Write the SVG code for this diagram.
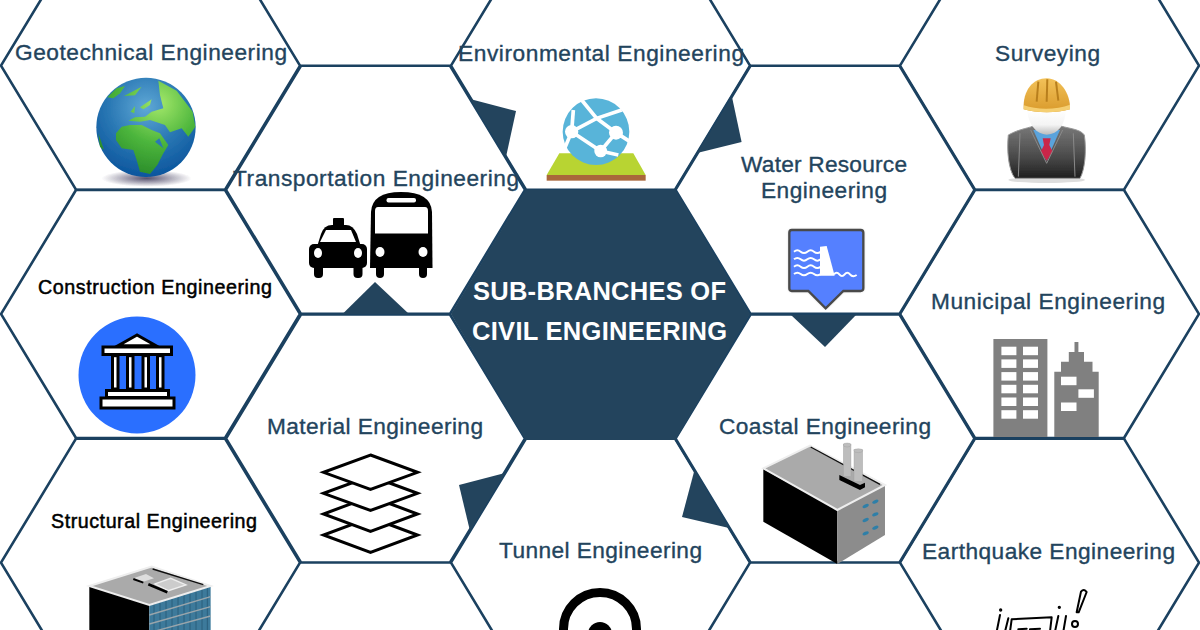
<svg xmlns="http://www.w3.org/2000/svg" width="1200" height="630" viewBox="0 0 1200 630">
<style>
.hex{fill:#fff;stroke:#1b4160;stroke-width:2.6;stroke-linejoin:round}
text{font-family:"Liberation Sans",Arial,sans-serif;text-anchor:middle}
.t{font-size:22.7px;fill:#23445d;stroke:#23445d;stroke-width:.35}
.k{font-size:19.7px;fill:#000;stroke:#000;stroke-width:.5}
.c{font-size:25.500px;font-weight:bold;fill:#fff}
.wedge{fill:#23445d}
.bld{fill:#808080}
.win{fill:#fff}
</style>
<defs>
<polygon id="hex" class="hex" points="-149.5,0 -74.5,-124 74.5,-124 149.5,0 74.5,124 -74.5,124"/>
<radialGradient id="sea" cx=".5" cy=".3" r=".75"><stop offset="0" stop-color="#5fa8d6"/><stop offset=".5" stop-color="#2a78b4"/><stop offset="1" stop-color="#07509a"/></radialGradient>
<radialGradient id="land" gradientUnits="userSpaceOnUse" cx="235" cy="100" r="220"><stop offset="0" stop-color="#a4e86a"/><stop offset=".55" stop-color="#4cb53c"/><stop offset="1" stop-color="#2a8c2a"/></radialGradient>
<radialGradient id="shade" cx=".5" cy=".5" r=".5"><stop offset="0" stop-color="#55506e"/><stop offset="1" stop-color="#55506e" stop-opacity="0"/></radialGradient>
<linearGradient id="gold" x1="0" y1="0" x2="0" y2="1"><stop offset="0" stop-color="#f2c158"/><stop offset="1" stop-color="#d99a2b"/></linearGradient>
<linearGradient id="suit" x1="0" y1="0" x2="0" y2="1"><stop offset="0" stop-color="#7a7a7a"/><stop offset=".6" stop-color="#4a4a4a"/><stop offset="1" stop-color="#1e1e1e"/></linearGradient>
<linearGradient id="head" x1="0" y1="0" x2="0" y2="1"><stop offset="0" stop-color="#fff"/><stop offset=".6" stop-color="#f4f4f4"/><stop offset="1" stop-color="#bbb"/></linearGradient>
<filter id="soft" x="-5%" y="-5%" width="110%" height="110%"><feGaussianBlur stdDeviation=".6"/></filter>
<filter id="glow" x="-20%" y="-20%" width="140%" height="140%"><feGaussianBlur stdDeviation="5"/></filter>
</defs>

<g id="node-environmental">
<use href="#hex" x="600.5" y="65.7"/>
<g transform="translate(530,90) scale(.3333)" filter="url(#soft)">
<polygon points="88,190 310,190 347,255 50,255" fill="#b8d432"/>
<rect x="50" y="255" width="297" height="17" fill="#a9673b"/>
<circle cx="198" cy="125" r="100" fill="#59b4d9"/>
<g stroke="#fff" stroke-width="11" fill="none"><path d="M155,30 L200,85 L258,128 L300,155"/><path d="M125,125 L200,85 L275,60"/><path d="M125,125 L130,60"/><path d="M125,125 L212,183 L258,128"/><path d="M125,125 L100,185"/><path d="M212,183 L265,195"/></g>
<circle cx="258" cy="128" r="21" fill="#fff"/><circle cx="212" cy="183" r="19" fill="#fff"/><circle cx="125" cy="125" r="20" fill="#fff"/>
</g>
<text class="t" x="601" y="61" textLength="286" lengthAdjust="spacing">Environmental Engineering</text>
</g>

<g id="node-geotechnical">
<use href="#hex" x="150.5" y="65.7"/>
<g transform="translate(80,70) scale(.3333)" filter="url(#soft)">
<ellipse cx="200" cy="325" rx="135" ry="25" fill="url(#shade)"/>
<circle cx="198" cy="172" r="149" fill="url(#sea)"/>
<g fill="url(#land)">
<path d="M108,190 L125,170 L150,165 L185,165 L215,180 L240,190 L265,225 L250,250 L232,285 L210,312 L180,305 L170,270 L160,240 L125,235 L108,210Z"/>
<path d="M145,152 L165,142 L195,140 L215,125 L250,115 L240,75 L235,32 L290,62 L338,125 L346,170 L325,200 L305,175 L270,187 L255,165 L210,150 L180,155Z"/>
<path d="M82,82 L110,55 L135,48 L120,70 L100,85Z"/>
<path d="M132,78 L185,50 L165,76Z"/>
<path d="M152,125 L165,108 L163,130Z"/>
<path d="M180,112 L215,88 L210,105 L190,118Z"/>
<path d="M55,190 L60,230 L72,240Z"/>
</g>
<g fill="#2a78b4"><path d="M225,215 L250,235 L238,205Z"/></g>
</g>
<text class="t" x="151" y="60" textLength="272" lengthAdjust="spacing">Geotechnical Engineering</text>
</g>

<g id="node-construction">
<use href="#hex" x="150.5" y="314"/>
<ellipse cx="137" cy="375" rx="58.5" ry="58.5" fill="#2a6fff"/>
<polygon points="137,335 118,345.7 156,345.7" fill="#fff" stroke="#000" stroke-width="3"/>
<rect x="103" y="347" width="68.5" height="7.5" fill="#fff" stroke="#000" stroke-width="3"/>
<g fill="#fff" stroke="#000" stroke-width="3"><rect x="112.5" y="355.7" width="5.5" height="33.3"/><rect x="127.5" y="355.7" width="5.5" height="33.3"/><rect x="143" y="355.7" width="5.5" height="33.3"/><rect x="157.5" y="355.7" width="5.5" height="33.3"/></g>
<rect x="106.5" y="390.5" width="62" height="7" fill="#fff" stroke="#000" stroke-width="3"/>
<rect x="101" y="398" width="73" height="10" fill="#fff" stroke="#000" stroke-width="3"/>
<text class="k" x="155" y="293.5" textLength="234" lengthAdjust="spacing">Construction Engineering</text>
</g>

<g id="node-structural">
<use href="#hex" x="150.5" y="562.7"/>
<g transform="translate(80,560) scale(.3333)" filter="url(#soft)">
<polygon points="28,78 208,135 208,220 28,220" fill="#000"/>
<polygon points="208,135 392,78 392,220 208,220" fill="#3d7a9b"/>
<g stroke="#2b5f7c" stroke-width="3"><path d="M222,130V220M240,125V220M258,120V220M276,115V220M294,110V220M312,104V220M330,98V220M348,92V220M366,86V220M382,82V220"/></g>
<g stroke="#9aa5ab" stroke-width="4"><path d="M208,165 L392,110M208,192 L392,140M208,218 L392,168"/></g>
<polygon points="28,78 215,20 392,78 208,135" fill="#aaa" stroke="#eee" stroke-width="6"/>
<path d="M218,27 L370,74" stroke="#111" stroke-width="4"/>
<polygon points="160,55 198,42 222,55 185,67" fill="#ddd"/>
<path d="M160,57 L190,68" stroke="#000" stroke-width="6"/>
<polygon points="225,72 272,55 318,75 265,92" fill="#ccc" stroke="#eee" stroke-width="4"/>
<path d="M205,73 L262,97" stroke="#000" stroke-width="8"/>
</g>
<text class="k" x="154" y="528" textLength="206" lengthAdjust="spacing">Structural Engineering</text>
</g>

<g id="node-surveying">
<use href="#hex" x="1049.5" y="65.7"/>
<g transform="translate(990,70) scale(.3333)" filter="url(#soft)">
<ellipse cx="170" cy="330" rx="115" ry="9" fill="#ddd"/>
<path d="M55,195 C90,175 120,175 135,165 L170,270 L205,165 C225,175 270,175 283,195 C290,240 285,300 270,325 L75,325 C55,300 50,240 55,195Z" fill="url(#suit)" stroke="#999" stroke-width="3"/>
<polygon points="130,180 210,180 170,272" fill="#5aa3dc"/>
<polygon points="158,205 182,205 178,225 188,245 170,272 152,245 162,225" fill="#c9274a"/>
<path d="M122,180 L170,280 L218,180M90,190 L85,320M250,190 L255,320" fill="none" stroke="#8a8a8a" stroke-width="3"/>
<path d="M112,122 C115,165 140,192 170,194 C205,192 225,165 228,120Z" fill="url(#head)"/>
<path d="M101,118 C98,60 130,25 170,25 C210,25 242,70 240,118 C200,130 140,130 101,118Z" fill="url(#gold)"/>
<path d="M102,106 C140,120 200,120 240,104 L240,118 C200,130 140,130 101,118Z" fill="#f5cf72"/>
<g stroke="#b87f1e" stroke-width="6" fill="none"><path d="M145,35 L140,95"/><path d="M172,28 L170,95"/><path d="M198,35 L205,92"/></g>
</g>
<text class="t" x="1047.5" y="61" textLength="105" lengthAdjust="spacing">Surveying</text>
</g>

<g id="node-municipal">
<use href="#hex" x="1049.5" y="314"/>
<rect class="bld" x="993.4" y="339" width="54" height="98"/>
<path class="bld" d="M1054.3,437 V371.7 H1061 V361.7 H1068.8 V352 H1074.5 V342 H1078.4 V352 H1084 V361.7 H1092.5 V371.7 H1098.7 V437Z"/>
<g class="win">
<rect x="1001.4" y="346.7" width="15" height="8.5"/><rect x="1023" y="346.7" width="15" height="8.5"/>
<rect x="1001.4" y="359.4" width="15" height="8.5"/><rect x="1023" y="359.4" width="15" height="8.5"/>
<rect x="1001.4" y="372.1" width="15" height="8.5"/><rect x="1023" y="372.1" width="15" height="8.5"/>
<rect x="1001.4" y="384.8" width="15" height="8.5"/><rect x="1023" y="384.8" width="15" height="8.5"/>
<rect x="1001.4" y="397.5" width="15" height="8.5"/><rect x="1023" y="397.5" width="15" height="8.5"/>
<rect x="1001.4" y="410.2" width="15" height="8.5"/><rect x="1023" y="410.2" width="15" height="8.5"/>
<rect x="1061" y="376.7" width="15.5" height="8.5"/><rect x="1078.4" y="389.3" width="15.5" height="8.5"/><rect x="1061" y="402.5" width="15.5" height="8.5"/>
</g>
<text class="t" x="1048" y="309" textLength="234" lengthAdjust="spacing">Municipal Engineering</text>
</g>

<g id="node-earthquake">
<use href="#hex" x="1049.5" y="562.7"/>
<g transform="translate(980,580) scale(.3333)" fill="none" stroke="#000" stroke-width="6" stroke-linecap="round" stroke-linejoin="round">
<path d="M290,97 L303,35 Q312,24 320,36 L296,97Z"/>
<circle cx="285" cy="132" r="9"/>
<path d="M50,155 L60,105M75,155 L85,115M90,155 L95,118 L215,112 L210,155M115,148 L140,146M150,148 L180,146M225,155 L235,108M250,155 L258,108"/>
<circle cx="62" cy="90" r="2" fill="#000"/><circle cx="238" cy="82" r="2" fill="#000"/>
</g>
<text class="t" x="1048.5" y="558.7" textLength="253" lengthAdjust="spacing">Earthquake Engineering</text>
</g>

<g id="node-tunnel">
<use href="#hex" x="600.5" y="562.7"/>
<circle cx="600" cy="629" r="36.5" fill="none" stroke="#000" stroke-width="9"/>
<circle cx="600" cy="634" r="12" fill="#000"/>
<text class="t" x="600.5" y="558" textLength="203" lengthAdjust="spacing">Tunnel Engineering</text>
</g>

<g id="node-transportation">
<use href="#hex" x="375.5" y="189.8"/>
<g fill="#000">
<rect x="333" y="218" width="11" height="8" rx="1"/>
<path d="M316,250 L321,234 Q324,225 332,225 L346,225 Q353,225 357,234 L362,250Z"/>
<rect x="309" y="244" width="58" height="24" rx="5"/>
<rect x="314" y="262" width="9" height="16" rx="4"/><rect x="353.5" y="262" width="9" height="16" rx="4"/>
<path d="M370,268 L371,212 Q372,192 401,192 Q431,192 432,212 L432.5,268Z"/>
<rect x="376" y="262" width="8" height="16" rx="4"/><rect x="419" y="262" width="8" height="16" rx="4"/>
</g>
<g fill="#fff">
<path d="M326,230 L351,230 L356,242 L320,242Z"/>
<ellipse cx="318" cy="253" rx="4" ry="5"/><ellipse cx="358" cy="253" rx="4" ry="5"/>
<rect x="386.5" y="198" width="29.5" height="4.5" rx="2"/>
<path d="M378,207 L425,207 Q428,207 428,211 L428,233.5 L375,233.5 L375,211 Q375,207 378,207Z"/>
<ellipse cx="380" cy="252" rx="4.5" ry="5"/><ellipse cx="423" cy="252" rx="4.5" ry="5"/>
</g>
<text class="t" x="376" y="186" textLength="286" lengthAdjust="spacing">Transportation Engineering</text>
</g>

<g id="node-material">
<use href="#hex" x="375.5" y="438.5"/>
<g fill="#fff" stroke="#000" stroke-width="3">
<polygon points="370.5,517.5 417.5,535 370.5,552.5 323.5,535"/>
<polygon points="370.5,496.5 417.5,514 370.5,531.5 323.5,514"/>
<polygon points="370.5,476 417.5,493.3 370.5,510.5 323.5,493.3"/>
<polygon points="370.5,455 417.5,472.3 370.5,489.5 323.5,472.3"/>
</g>
<text class="t" x="375" y="434" textLength="216" lengthAdjust="spacing">Material Engineering</text>
</g>

<g id="node-water">
<use href="#hex" x="825" y="189.8"/>
<g transform="translate(770,220) scale(.3333)">
<path d="M65,30 H272 Q280,30 280,38 V205 Q280,213 272,213 H220 L167,265 L115,213 H65 Q58,213 58,205 V38 Q58,30 65,30Z" fill="#000" opacity=".4" filter="url(#glow)"/>
<g filter="url(#soft)">
<path d="M65,30 H272 Q280,30 280,38 V205 Q280,213 272,213 H220 L167,265 L115,213 H65 Q58,213 58,205 V38 Q58,30 65,30Z" fill="#5580ff" stroke="#4a4a4a" stroke-width="7"/>
<g fill="none" stroke="#fff" stroke-width="6"><path d="M72,95 q10,-8 20,0 t20,0 t20,0 t20,0"/><path d="M72,118 q10,-8 20,0 t20,0 t20,0 t20,0"/><path d="M72,140 q10,-8 20,0 t20,0 t20,0 t20,0"/><path d="M72,162 q10,-8 20,0 t20,0 t20,0 t20,0"/><path d="M192,163 q8,-10 16,0 t16,0 t16,0 t20,2"/></g>
<polygon points="150,80 170,78 194,167 150,167" fill="#fff"/>
</g>
</g>
<text class="t" x="824" y="172" textLength="166" lengthAdjust="spacing">Water Resource</text>
<text class="t" x="824" y="198" textLength="126" lengthAdjust="spacing">Engineering</text>
</g>

<g id="node-coastal">
<use href="#hex" x="825" y="438.5"/>
<g transform="translate(750,435) scale(.3333)" filter="url(#soft)">
<polygon points="40,102 262,225 262,387 40,260" fill="#000"/>
<polygon points="262,225 405,150 405,300 262,387" fill="#8c8c8c"/>
<polygon points="40,100 180,32 405,150 262,225" fill="#aaa" stroke="#eee" stroke-width="6"/>
<path d="M182,36 L390,148" stroke="#111" stroke-width="4"/>
<polygon points="268,120 330,150 345,143 345,157 330,165 268,135" fill="#000"/>
<g fill="#bdbdbd" stroke="#999" stroke-width="1"><rect x="280" y="27" width="23" height="98"/><ellipse cx="291.5" cy="30" rx="11.5" ry="6"/><rect x="312" y="44" width="26" height="96"/><ellipse cx="325" cy="47" rx="13" ry="6"/></g>
<g fill="#2f7fa8"><ellipse cx="347" cy="213" rx="10" ry="5" transform="rotate(-25 347 213)"/><ellipse cx="376" cy="200" rx="10" ry="5" transform="rotate(-25 376 200)"/><ellipse cx="347" cy="255" rx="10" ry="5" transform="rotate(-25 347 255)"/><ellipse cx="376" cy="238" rx="10" ry="5" transform="rotate(-25 376 238)"/><ellipse cx="347" cy="295" rx="10" ry="5" transform="rotate(-25 347 295)"/><ellipse cx="376" cy="278" rx="10" ry="5" transform="rotate(-25 376 278)"/></g>
</g>
<text class="t" x="825" y="434" textLength="212" lengthAdjust="spacing">Coastal Engineering</text>
</g>

<g id="node-center">
<polygon points="451,314 525.5,189.8 675.5,189.8 750,314 675.5,440 525.5,440" fill="#23445d"/>
<text class="c" x="599.5" y="300" textLength="253" lengthAdjust="spacing">SUB-BRANCHES OF</text>
<text class="c" x="599.5" y="339.5" textLength="255" lengthAdjust="spacing">CIVIL ENGINEERING</text>
</g>

<g id="connectors">
<polygon class="wedge" points="470,99 516,111 506,157"/>
<polygon class="wedge" points="732,97 741.6,142 697,153"/>
<polygon class="wedge" points="342.5,314 375,282 409,314"/>
<polygon class="wedge" points="791,315 856,315 825,347"/>
<polygon class="wedge" points="459,485 505,473 470,531"/>
<polygon class="wedge" points="694.5,470 682,517 729,528"/>
</g>
</svg>
